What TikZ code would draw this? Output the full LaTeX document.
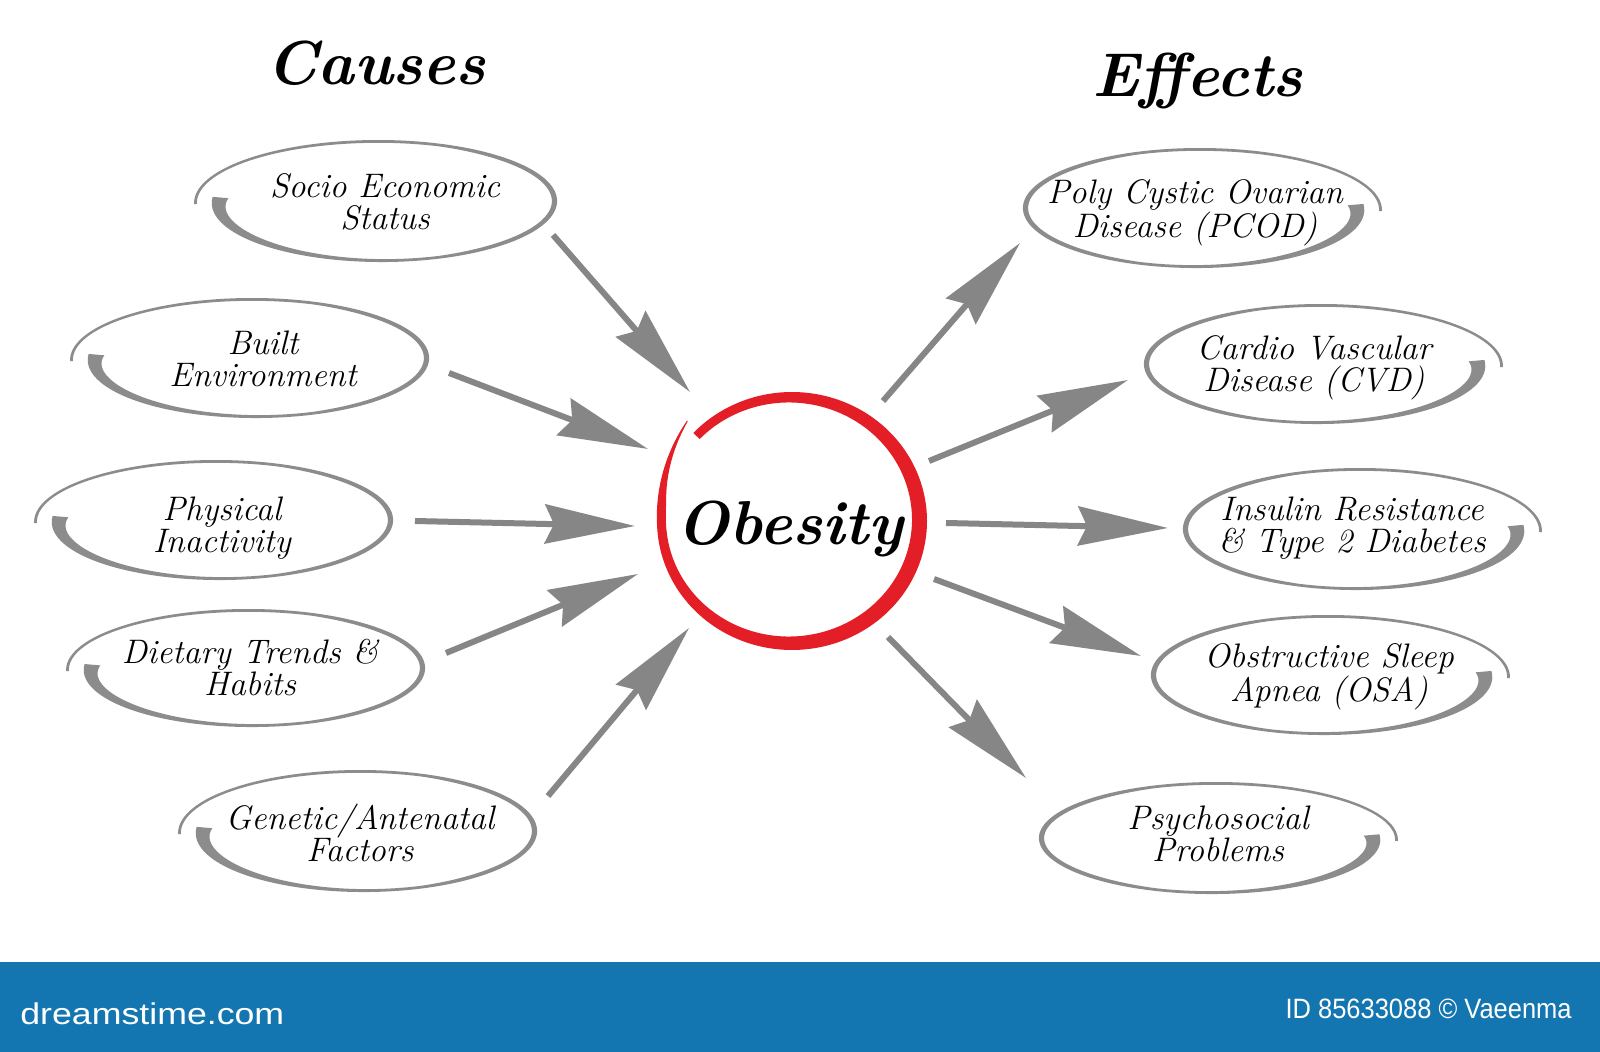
\documentclass[tikz,border=0pt]{standalone}
\usepackage{fontspec}
\newfontfamily\bannerfont{Liberation Sans}
\usetikzlibrary{arrows.meta}
\definecolor{ovalgray}{RGB}{140,140,140}
\definecolor{arrgray}{RGB}{134,134,134}
\definecolor{obred}{RGB}{228,30,38}
\definecolor{bannerblue}{RGB}{19,118,176}
\newcommand\handfont{\normalfont\itshape}
\tikzset{
  declare function={
    ovw(\a)=2.8+2.4*max(0,1-((\a-360)/70)*((\a-360)/70))+13*(max(\a-440,0)/105)*(max(\a-440,0)/105);
    ovrx(\a)=-18*(\a-178)/367;
    ovry(\a)=-4*(\a-178)/367;
    rg(\a)=1+0.1*(max(\a-535,0)/50)*(max(\a-535,0)/50);
    rw(\a)=(12+3*cos(\a)+1.5*sin(\a))*min(1,(590-\a)/42);
  },
  pics/oval/.style n args={3}{code={
    \fill[ovalgray] plot[domain=178:545,samples=160,variable=\t]
      ({#3*(#1+ovrx(\t))*cos(\t)},{(#2+ovry(\t))*sin(\t)})
      -- plot[domain=545:178,samples=160,variable=\t]
      ({#3*(#1+ovrx(\t)-ovw(\t))*cos(\t)},{(#2+ovry(\t)-ovw(\t))*sin(\t)}) -- cycle;
  }},
  ovaltext/.style={font=\handfont\fontsize{17}{16}\selectfont, align=center, inner sep=0pt},
  titletext/.style={font=\normalfont\bfseries\itshape\fontsize{31}{31}\selectfont, anchor=base, inner sep=0pt},
  arr/.style={arrgray, line width=3pt, -{Stealth[length=45pt,width=19.5pt,inset=4.5pt]}},
}
\begin{document}
\begin{tikzpicture}[x=0.5pt,y=-0.5pt]
\useasboundingbox (0,0) rectangle (1600,1052);
\fill[white] (0,0) rectangle (1600,1052);

% titles
\node[titletext] (causes) at (376,85) {Causes};
\node[titletext] (effects) at (1198,97) {Effects};

% cause ovals
\pic at (380,202) {oval={186}{63}{1}};
\pic at (254,359) {oval={184}{62}{1}};
\pic at (218,521) {oval={184}{62}{1}};
\pic at (250,669) {oval={184}{61}{1}};
\pic at (362,832) {oval={184}{63}{1}};
% effect ovals
\pic at (1198,209) {oval={184}{62}{-1}};
\pic at (1319,365) {oval={184}{62}{-1}};
\pic at (1358,530) {oval={184}{63}{-1}};
\pic at (1326,676) {oval={184}{62}{-1}};
\pic at (1214,839) {oval={184}{58}{-1}};

\node[ovaltext] (c1) at (385,202) {Socio Economic\\Status};
\node[ovaltext] (c2) at (263,359) {Built\\Environment};
\node[ovaltext] (c3) at (222,528) {Physical\\Inactivity};
\node[ovaltext] (c4) at (250,668) {Dietary Trends \&\\Habits};
\node[ovaltext] (c5) at (360,833) {Genetic/Antenatal\\Factors};

\node[ovaltext] (e1) at (1195,213) {Poly Cystic Ovarian\\Disease (PCOD)};
\node[ovaltext] (e2) at (1314,368) {Cardio Vascular\\Disease (CVD)};
\node[ovaltext] (e3) at (1352,528) {Insulin Resistance\\\& Type 2 Diabetes};
\node[ovaltext] (e4) at (1329,677) {Obstructive Sleep\\Apnea (OSA)};
\node[ovaltext] (e5) at (1218,834) {Psychosocial\\Problems};

% red circle
\fill[obred, shift={(792,521)}]
  plot[domain=223:585,samples=220,variable=\t] ({135*rg(\t)*cos(\t)},{129*rg(\t)*sin(\t)})
  -- plot[domain=585:223,samples=220,variable=\t] ({(135*rg(\t)-rw(\t))*cos(\t)},{(129*rg(\t)-rw(\t))*sin(\t)}) -- cycle;
\node[font=\handfont\bfseries\fontsize{31}{31}\selectfont, anchor=base, inner sep=0pt] (ob) at (790,545) {Obesity};

% arrow end points
\coordinate (cs1) at (553,235); \coordinate (ct1) at (690,392);
\coordinate (cs2) at (449,373); \coordinate (ct2) at (648,449);
\coordinate (cs3) at (415,521); \coordinate (ct3) at (635,526);
\coordinate (cs4) at (446,653); \coordinate (ct4) at (638,574);
\coordinate (cs5) at (548,796); \coordinate (ct5) at (689,628);
\coordinate (es1) at (883,401); \coordinate (et1) at (1020,243);
\coordinate (es2) at (929,461); \coordinate (et2) at (1128,380);
\coordinate (es3) at (946,523); \coordinate (et3) at (1168,528);
\coordinate (es4) at (934,579); \coordinate (et4) at (1141,656);
\coordinate (es5) at (888,637); \coordinate (et5) at (1026,778);
\foreach \i in {1,...,5} {
  \draw[arr] (cs\i) -- (ct\i);
  \draw[arr] (es\i) -- (et\i);
}

% banner
\fill[bannerblue] (0,962) rectangle (1600,1052);
\node[font=\bannerfont\fontsize{15}{15}\selectfont, text=white, anchor=base west, inner sep=0pt] (logo) at (20,1024) {\scalebox{1.19}[1]{dreamstime.com}};
\node[font=\bannerfont\fontsize{14}{14}\selectfont, text=white, anchor=base east, inner sep=0pt] (credit) at (1572,1018) {\scalebox{0.91}[1]{ID 85633088 © Vaeenma}};
\end{tikzpicture}
\end{document}
